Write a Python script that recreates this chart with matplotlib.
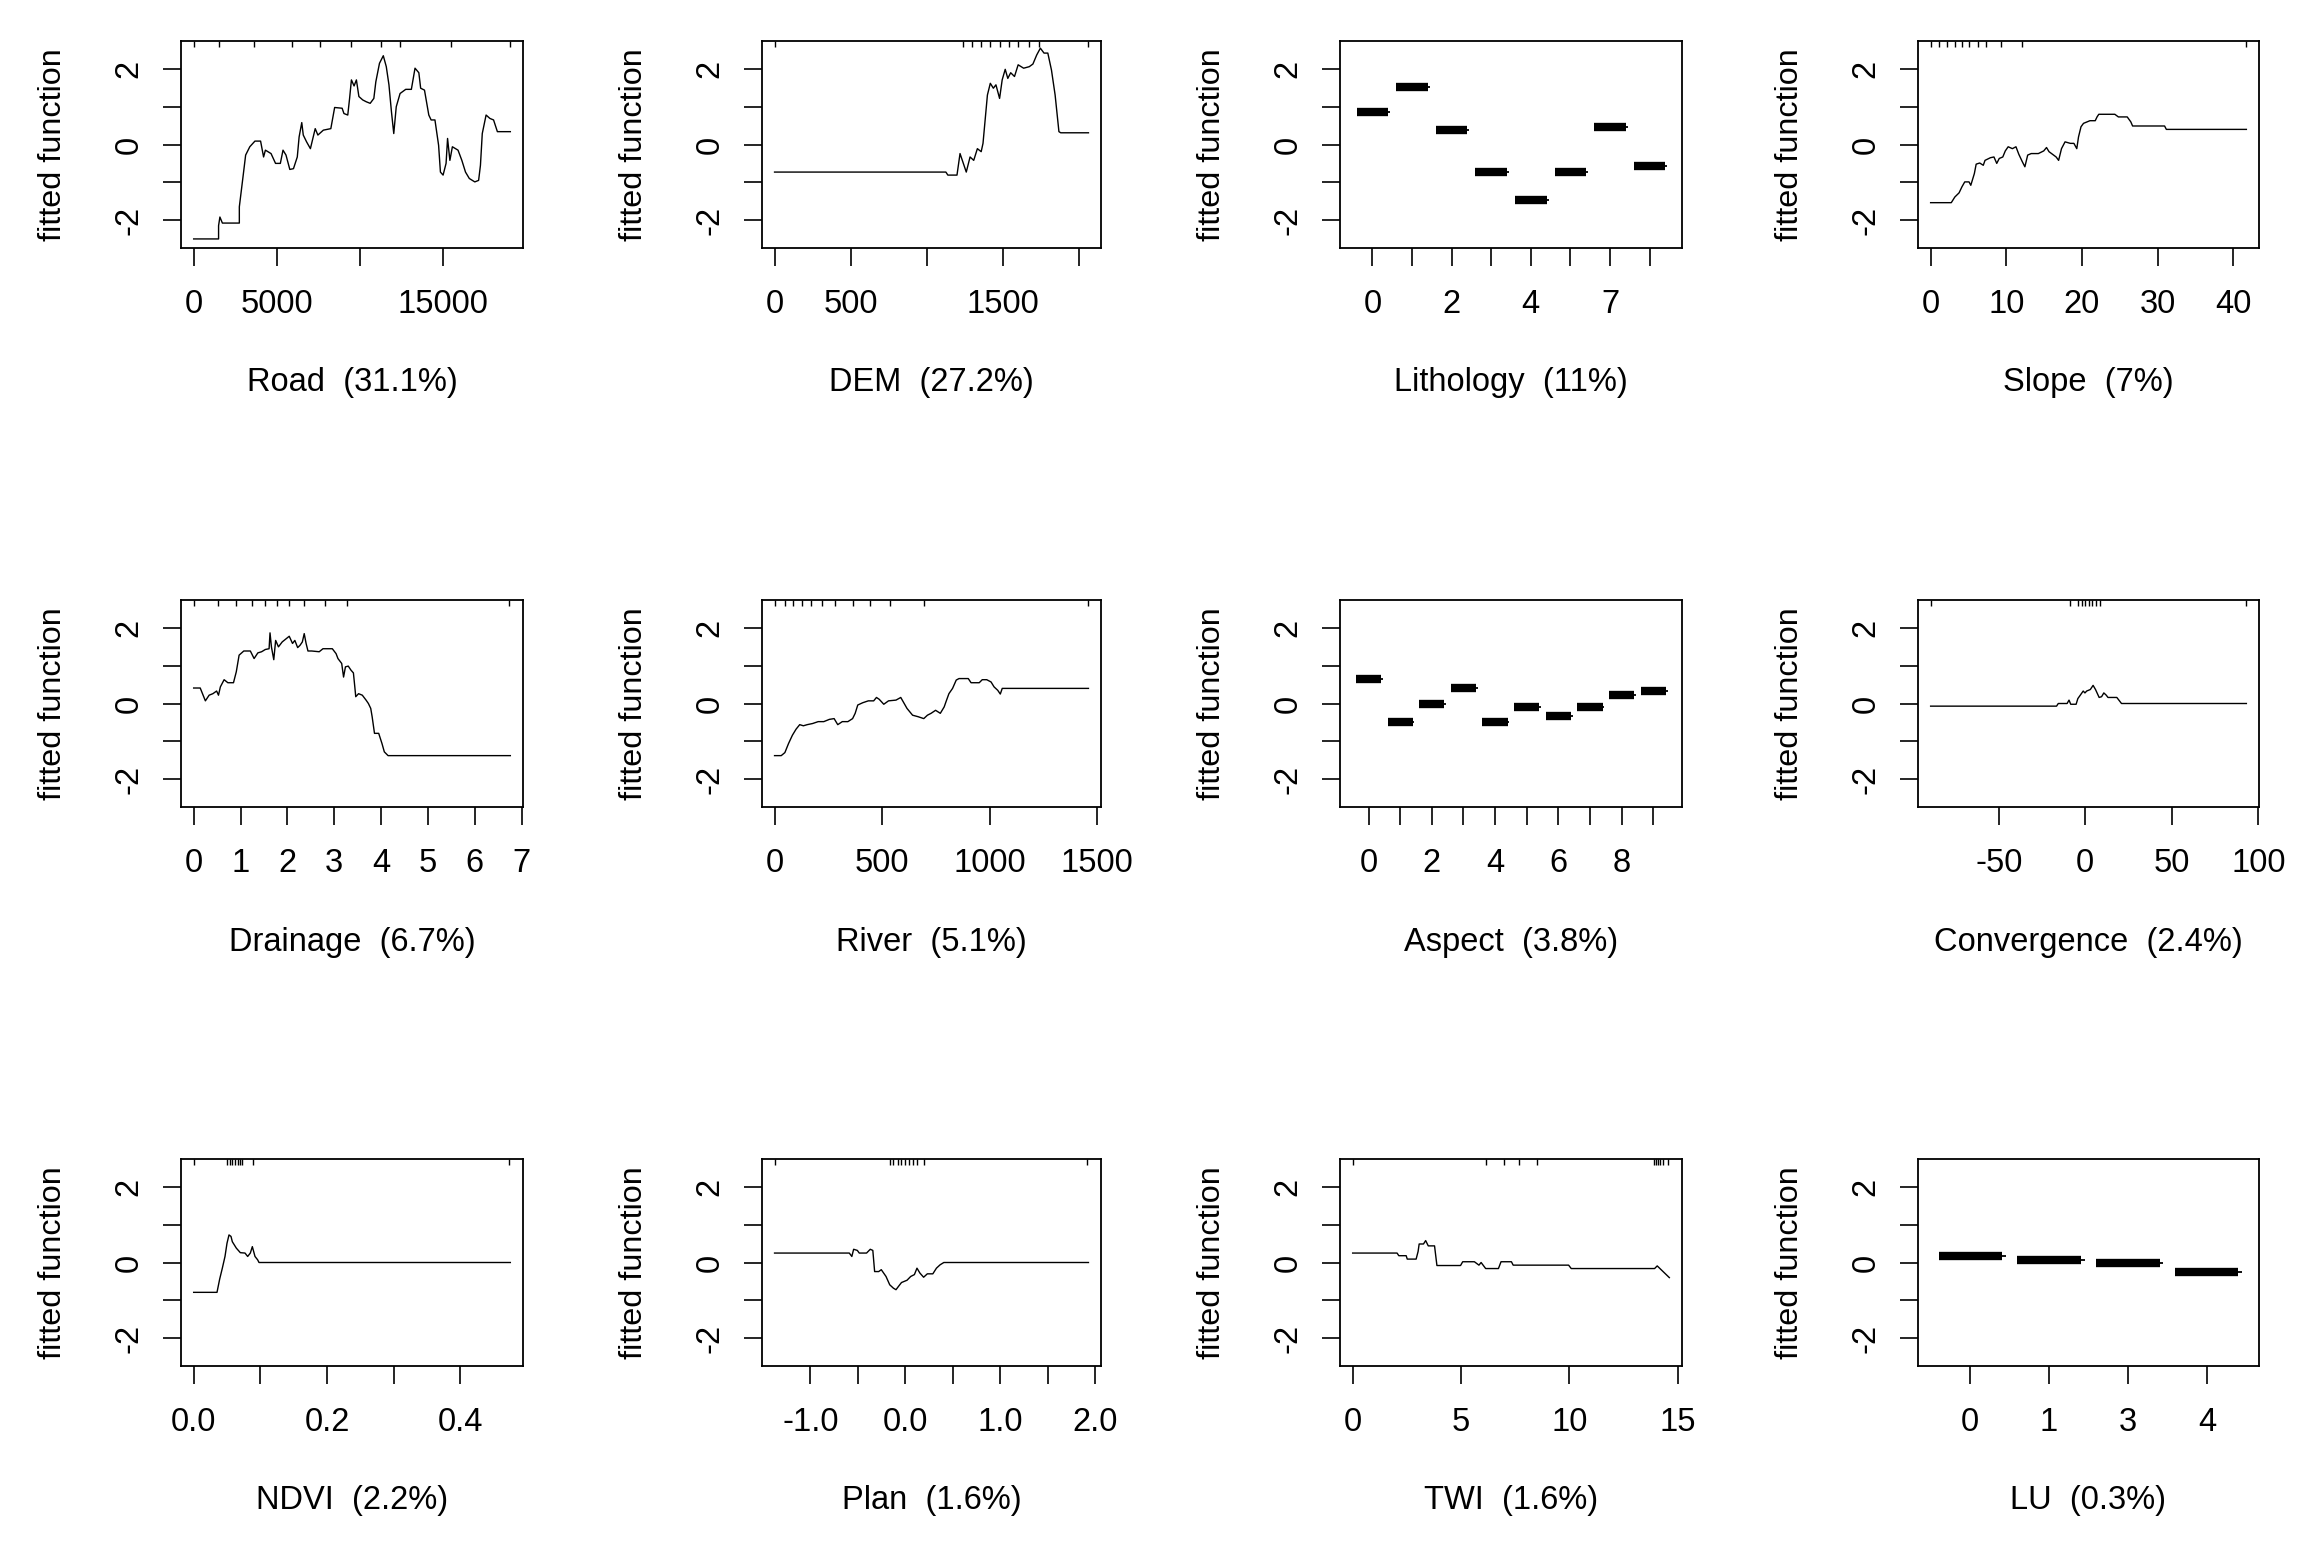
import matplotlib
matplotlib.use("Agg")
import matplotlib.pyplot as plt

plt.rcParams['font.family'] = ['Liberation Sans', 'DejaVu Sans']
plt.rcParams['font.size'] = 23.5

# values
road_x = [0, 1500, 1500, 1580, 1730, 2750, 2750, 2970, 3130, 3380, 3690, 4030, 4210, 4320, 4660,
          4930, 5220, 5380, 5560, 5790, 6010, 6240, 6350, 6510, 6600, 6800, 7030, 7320, 7480, 7810,
          8260, 8490, 8940, 9050, 9280, 9390, 9500, 9660, 9800, 9950, 10180, 10400, 10630, 10850,
          10970, 11190, 11420, 11600, 11760, 11910, 12050, 12200, 12430, 12770, 13110, 13330, 13560,
          13670, 13900, 14160, 14300, 14530, 14750, 14860, 15020, 15200, 15290, 15430, 15580, 15920,
          16150, 16370, 16600, 16930, 17160, 17270, 17380, 17610, 17840, 18060, 18290, 19070]
road_y = [-2.50, -2.50, -2.15, -1.92, -2.08, -2.08, -1.65, -0.86, -0.28, -0.06, 0.09, 0.09, -0.33,
          -0.15, -0.24, -0.50, -0.50, -0.15, -0.28, -0.66, -0.64, -0.33, 0.20, 0.58, 0.25, 0.07,
          -0.11, 0.42, 0.25, 0.38, 0.42, 0.98, 0.96, 0.82, 0.78, 1.22, 1.71, 1.55, 1.71, 1.27, 1.18,
          1.13, 1.09, 1.22, 1.66, 2.15, 2.35, 2.06, 1.58, 0.87, 0.29, 1.00, 1.35, 1.46, 1.46, 2.02,
          1.90, 1.49, 1.44, 0.78, 0.65, 0.65, -0.02, -0.73, -0.81, -0.50, 0.16, -0.42, -0.06, -0.15,
          -0.42, -0.73, -0.90, -0.99, -0.95, -0.55, 0.29, 0.78, 0.69, 0.65, 0.34, 0.34]
road_rug = [0, 1500, 3650, 5900, 7590, 9500, 11300, 12430, 15470, 19070]

dem_x = [0, 1126, 1139, 1199, 1219, 1260, 1285, 1309, 1333, 1358, 1370, 1382, 1399, 1418, 1438,
         1455, 1479, 1496, 1516, 1533, 1552, 1577, 1601, 1637, 1674, 1698, 1723, 1747, 1771, 1796,
         1820, 1844, 1869, 1881, 2063]
dem_y = [-0.73, -0.73, -0.81, -0.81, -0.24, -0.73, -0.33, -0.42, -0.11, -0.19, 0.03, 0.56, 1.31,
         1.62, 1.49, 1.58, 1.22, 1.71, 1.99, 1.75, 1.90, 1.80, 2.11, 2.02, 2.06, 2.13, 2.37, 2.55,
         2.42, 2.42, 1.97, 1.31, 0.34, 0.31, 0.31]
dem_rug = [0, 1236, 1297, 1358, 1418, 1479, 1540, 1601, 1674, 1735, 2063]

litho_levels = ['0', '1', '2', '3', '4', '5', '7', '8']
litho_y = [0.87, 1.52, 0.39, -0.73, -1.46, -0.73, 0.47, -0.57]

slope_x = [0, 2.73, 3.20, 3.76, 4.14, 4.51, 5.08, 5.31, 5.78, 6.02, 6.49, 6.96, 7.19, 7.90, 8.37,
           8.74, 9.07, 9.54, 9.87, 10.25, 10.81, 11.28, 11.66, 12.13, 12.46, 12.83, 13.30, 14.24,
           14.95, 15.32, 15.65, 16.12, 16.59, 16.92, 17.30, 17.77, 18.47, 18.94, 19.32, 19.55,
           19.88, 20.21, 21.06, 21.76, 22.00, 22.23, 24.35, 24.82, 25.99, 26.46, 26.70, 30.93,
           31.16, 41.74]
slope_y = [-1.54, -1.54, -1.39, -1.28, -1.12, -0.99, -0.99, -1.08, -0.77, -0.52, -0.49, -0.55,
           -0.42, -0.35, -0.33, -0.50, -0.37, -0.33, -0.17, -0.06, -0.11, -0.06, -0.26, -0.46,
           -0.59, -0.28, -0.24, -0.24, -0.17, -0.08, -0.19, -0.26, -0.33, -0.42, -0.11, 0.07, 0.03,
           0.03, -0.11, 0.20, 0.47, 0.56, 0.63, 0.63, 0.73, 0.80, 0.80, 0.73, 0.73, 0.60, 0.49,
           0.49, 0.40, 0.40]
slope_rug = [0, 1.08, 2.16, 3.2, 4.14, 5.08, 6.25, 7.33, 9.3, 12.1, 41.7]

drain_x = [0, 0.14, 0.25, 0.33, 0.41, 0.49, 0.53, 0.57, 0.65, 0.73, 0.85, 0.91, 0.97, 1.07, 1.21,
           1.29, 1.37, 1.45, 1.53, 1.61, 1.63, 1.66, 1.71, 1.75, 1.81, 1.89, 1.95, 2.00, 2.04, 2.11,
           2.16, 2.22, 2.27, 2.32, 2.36, 2.40, 2.44, 2.52, 2.68, 2.76, 2.96, 3.04, 3.08, 3.16, 3.20,
           3.24, 3.30, 3.36, 3.41, 3.44, 3.46, 3.52, 3.60, 3.68, 3.73, 3.78, 3.81, 3.86, 3.95, 4.02,
           4.07, 4.15, 6.76]
drain_y = [0.41, 0.41, 0.07, 0.22, 0.26, 0.33, 0.22, 0.44, 0.63, 0.55, 0.55, 0.84, 1.28, 1.39,
           1.39, 1.19, 1.34, 1.37, 1.43, 1.45, 1.87, 1.50, 1.16, 1.67, 1.50, 1.63, 1.69, 1.74, 1.78,
           1.59, 1.67, 1.48, 1.54, 1.63, 1.85, 1.59, 1.39, 1.39, 1.37, 1.45, 1.45, 1.32, 1.19, 1.06,
           0.70, 0.97, 0.99, 0.88, 0.81, 0.44, 0.18, 0.26, 0.22, 0.09, 0.0, -0.13, -0.35, -0.79,
           -0.79, -1.06, -1.28, -1.38, -1.38]
drain_rug = [0, 0.52, 0.91, 1.25, 1.53, 1.78, 2.04, 2.35, 2.80, 3.28, 6.74]

river_x = [0, 31, 48, 65, 83, 100, 117, 134, 152, 177, 203, 229, 255, 277, 294, 315, 341, 363, 375,
           387, 410, 436, 461, 474, 487, 508, 530, 565, 587, 599, 616, 642, 668, 694, 711, 728, 749,
           771, 789, 797, 811, 828, 845, 858, 901, 914, 952, 966, 987, 1007, 1021, 1038, 1050, 1059,
           1460]
river_y = [-1.38, -1.38, -1.30, -1.06, -0.84, -0.68, -0.56, -0.59, -0.56, -0.53, -0.48, -0.48,
           -0.42, -0.40, -0.56, -0.48, -0.48, -0.40, -0.26, -0.04, 0.02, 0.07, 0.07, 0.16, 0.11,
           -0.02, 0.07, 0.09, 0.16, 0.04, -0.13, -0.31, -0.35, -0.40, -0.31, -0.26, -0.18, -0.26,
           -0.09, 0.04, 0.26, 0.40, 0.62, 0.66, 0.66, 0.55, 0.55, 0.63, 0.63, 0.57, 0.44, 0.35, 0.25,
           0.40, 0.40]
river_rug = [0, 48, 88, 126, 169, 220, 281, 367, 444, 536, 694, 1460]

aspect_levels = ['0', '1', '2', '3', '4', '5', '6', '7', '8', '9']
aspect_y = [0.64, -0.49, -0.01, 0.40, -0.49, -0.09, -0.33, -0.09, 0.23, 0.32]

conv_x = [-89.3, -16.6, -15.6, -10.5, -9.4, -8.4, -5.3, -4.3, -2.9, -1.2, -0.2, 0.8, 2.9, 4.5, 5.9,
          7.0, 8.0, 9.4, 10.7, 12.1, 13.1, 18.2, 20.9, 93.0]
conv_y = [-0.07, -0.07, 0.0, 0.0, 0.09, -0.02, -0.02, 0.13, 0.22, 0.33, 0.28, 0.33, 0.37, 0.48,
          0.37, 0.26, 0.16, 0.18, 0.28, 0.22, 0.16, 0.16, 0.0, 0.0]
conv_rug = [-89.3, -9.0, -4.0, -2.0, 0.0, 2.0, 4.0, 6.0, 8.6, 93.0]

ndvi_x = [0, 0.035, 0.039, 0.043, 0.047, 0.050, 0.053, 0.056, 0.058, 0.064, 0.070, 0.077, 0.081,
          0.085, 0.088, 0.092, 0.096, 0.098, 0.475]
ndvi_y = [-0.79, -0.79, -0.44, -0.15, 0.16, 0.51, 0.73, 0.69, 0.55, 0.38, 0.26, 0.25, 0.16, 0.25,
          0.42, 0.16, 0.07, 0.0, 0.0]
ndvi_rug = [0, 0.050, 0.054, 0.058, 0.062, 0.066, 0.070, 0.073, 0.089, 0.473]

plan_x = [-1.376, -0.589, -0.562, -0.543, -0.504, -0.484, -0.407, -0.368, -0.341, -0.322, -0.279,
          -0.252, -0.202, -0.163, -0.124, -0.097, -0.070, -0.039, 0.019, 0.058, 0.097, 0.124,
          0.155, 0.194, 0.233, 0.291, 0.329, 0.368, 0.407, 1.930]
plan_y = [0.25, 0.25, 0.16, 0.35, 0.32, 0.25, 0.25, 0.35, 0.32, -0.24, -0.24, -0.19, -0.37, -0.59,
          -0.68, -0.72, -0.63, -0.53, -0.47, -0.37, -0.32, -0.15, -0.28, -0.39, -0.30, -0.30, -0.15,
          -0.06, 0.0, 0.0]
plan_rug = [-1.368, -0.155, -0.124, -0.078, -0.039, 0.0, 0.039, 0.078, 0.124, 0.194, 1.919]

twi_x = [0, 2.05, 2.13, 2.47, 2.52, 2.93, 3.02, 3.07, 3.27, 3.37, 3.49, 3.78, 3.89, 4.98, 5.08,
         5.62, 5.83, 5.93, 6.14, 6.73, 6.85, 7.33, 7.41, 9.97, 10.09, 13.94, 14.06, 14.62]
twi_y = [0.25, 0.25, 0.18, 0.18, 0.09, 0.09, 0.29, 0.49, 0.49, 0.58, 0.44, 0.44, -0.08, -0.08,
         0.02, 0.02, -0.07, 0.0, -0.16, -0.16, 0.02, 0.02, -0.07, -0.07, -0.16, -0.16, -0.09,
         -0.40]
twi_rug = [0, 6.17, 6.99, 7.70, 8.52, 13.89, 14.0, 14.1, 14.2, 14.35, 14.57]

lu_levels = ['0', '1', '3', '4']
lu_y = [0.16, 0.07, 0.0, -0.25]

# panel positions in pixels of the 2300x1544 picture
W, H = 2300, 1544
col_left = [181, 762, 1340, 1918]
col_right = [523, 1101, 1682, 2259]
row_top = [41, 600, 1159]
row_bottom = [248, 807, 1366]

panels = [
    dict(kind='line', x=road_x, y=road_y, rug=road_rug, title='Road  (31.1%)',
         ticks=[0, 5000, 10000, 15000], labels=['0', '5000', '', '15000']),
    dict(kind='line', x=dem_x, y=dem_y, rug=dem_rug, title='DEM  (27.2%)',
         ticks=[0, 500, 1000, 1500, 2000], labels=['0', '500', '', '1500', '']),
    dict(kind='factor', levels=litho_levels, y=litho_y, title='Lithology  (11%)', every=2),
    dict(kind='line', x=slope_x, y=slope_y, rug=slope_rug, title='Slope  (7%)',
         ticks=[0, 10, 20, 30, 40], labels=['0', '10', '20', '30', '40']),
    dict(kind='line', x=drain_x, y=drain_y, rug=drain_rug, title='Drainage  (6.7%)',
         ticks=list(range(8)), labels=[str(i) for i in range(8)]),
    dict(kind='line', x=river_x, y=river_y, rug=river_rug, title='River  (5.1%)',
         ticks=[0, 500, 1000, 1500], labels=['0', '500', '1000', '1500']),
    dict(kind='factor', levels=aspect_levels, y=aspect_y, title='Aspect  (3.8%)', every=2),
    dict(kind='line', x=conv_x, y=conv_y, rug=conv_rug, title='Convergence  (2.4%)',
         ticks=[-50, 0, 50, 100], labels=['-50', '0', '50', '100']),
    dict(kind='line', x=ndvi_x, y=ndvi_y, rug=ndvi_rug, title='NDVI  (2.2%)',
         ticks=[0, 0.1, 0.2, 0.3, 0.4], labels=['0.0', '', '0.2', '', '0.4']),
    dict(kind='line', x=plan_x, y=plan_y, rug=plan_rug, title='Plan  (1.6%)',
         ticks=[-1, -0.5, 0, 0.5, 1, 1.5, 2], labels=['-1.0', '', '0.0', '', '1.0', '', '2.0']),
    dict(kind='line', x=twi_x, y=twi_y, rug=twi_rug, title='TWI  (1.6%)',
         ticks=[0, 5, 10, 15], labels=['0', '5', '10', '15']),
    dict(kind='factor', levels=lu_levels, y=lu_y, title='LU  (0.3%)', every=1),
]

fig = plt.figure(figsize=(W / 100, H / 100), dpi=100)

for i, p in enumerate(panels):
    r, c = divmod(i, 4)
    l, rt, t, b = col_left[c], col_right[c], row_top[r], row_bottom[r]
    ax = fig.add_axes([l / W, 1 - b / H, (rt - l) / W, (b - t) / H])

    if p['kind'] == 'line':
        ax.plot(p['x'], p['y'], color='black', lw=1.0)
        ax.vlines(p['rug'], 0.97, 1.0, transform=ax.get_xaxis_transform(),
                  color='black', lw=1.0)
        x0, x1 = min(p['x']), max(p['x'])
        pad = 0.04 * (x1 - x0)
        ax.set_xlim(x0 - pad, x1 + pad)
        ax.set_xticks(p['ticks'])
        ax.set_xticklabels(p['labels'])
    else:
        n = len(p['levels'])
        pos = list(range(1, n + 1))
        ax.hlines(p['y'], [q - 0.4 for q in pos], [q + 0.4 for q in pos],
                  color='black', lw=6.0, capstyle='butt')
        ax.hlines(p['y'], pos, [q + 0.45 for q in pos], color='black', lw=1.3)
        ax.set_xlim(0.5 - 0.04 * n, n + 0.5 + 0.04 * n)
        ax.set_xticks(pos)
        ax.set_xticklabels([lv if k % p['every'] == 0 else ''
                            for k, lv in enumerate(p['levels'])])

    ax.set_ylim(-2.74, 2.74)
    ax.set_yticks([-2, -1, 0, 1, 2])
    ax.set_yticklabels(['-2', '', '0', '', '2'], rotation=90, va='center')

    for s in ax.spines.values():
        s.set_linewidth(1.3)
    ax.tick_params(axis='both', direction='out', width=1.2, color='black')
    ax.tick_params(axis='x', length=13, pad=16.5)
    ax.tick_params(axis='y', length=13.3, pad=13)

    ax.set_xlabel(p['title'])
    ax.xaxis.set_label_coords(0.5, -135 / (b - t))
    ax.xaxis.label.set_va('center')
    ax.set_ylabel('fitted function', fontsize=23.3)
    ax.yaxis.set_label_coords(-128 / (rt - l), 0.5)
    ax.yaxis.label.set_va('center')

fig.savefig('out.png', dpi=100)
